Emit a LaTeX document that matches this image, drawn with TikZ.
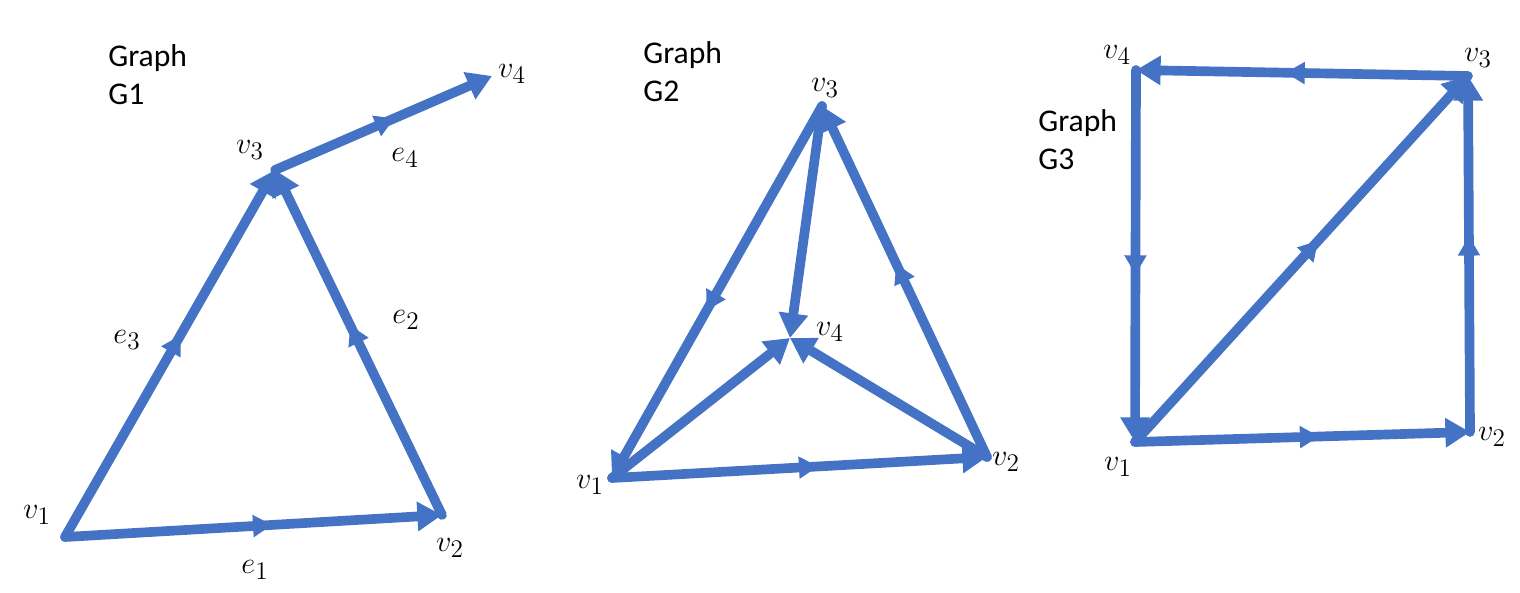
\documentclass[tikz,border=0pt]{standalone}
\usepackage{fontspec}
\setmainfont{Carlito}
\usetikzlibrary{arrows.meta,decorations.markings}
\definecolor{eb}{RGB}{68,114,196}
\tikzset{
  edge/.style={draw=eb,line width=5.5pt,line cap=round,-{Triangle[length=14pt,width=16pt]},
    postaction={decorate},decoration={markings,mark=at position 0.55 with {\arrow[eb]{Triangle[length=11pt,width=12pt]}}}},
  plain/.style={draw=eb,line width=5.5pt,line cap=round,-{Triangle[length=14pt,width=16pt]}},
  lbl/.style={font=\fontsize{19}{22}\selectfont},
  ttl/.style={font=\fontsize{18}{22}\selectfont,align=left,anchor=north west,inner sep=0pt}
}
\begin{document}
\begin{tikzpicture}[x=0.02cm,y=-0.02cm]
\useasboundingbox (0,0) rectangle (1520,592);
% G1
\coordinate (a1) at (65,537); \coordinate (a2) at (442,515);
\coordinate (a3) at (275,170); \coordinate (a4) at (492,76);
\draw[edge] (a1) -- (a2);
\draw[edge] (a1) -- (a3);
\draw[edge] (a2) -- (a3);
\draw[edge] (a3) -- (a4);
\node[ttl] (t1) at (108,44) {Graph\\G1};
\node[lbl] (la1) at (37,515) {$v_1$};
\node[lbl] (la2) at (450,548) {$v_2$};
\node[lbl] (la3) at (250,150) {$v_3$};
\node[lbl] (la4) at (512,74) {$v_4$};
\node[lbl] (le1) at (255,570) {$e_1$};
\node[lbl] (le2) at (406,320) {$e_2$};
\node[lbl] (le3) at (127,340) {$e_3$};
\node[lbl] (le4) at (405,158) {$e_4$};
% G2
\coordinate (b1) at (612,478); \coordinate (b2) at (987,457);
\coordinate (b3) at (822,106); \coordinate (b4) at (790,338);
\draw[edge] (b1) -- (b2);
\draw[edge] (b3) -- (b1);
\draw[edge] (b2) -- (b3);
\draw[plain] (b3) -- (b4);
\draw[plain] (b1) -- (b4);
\draw[plain] (b2) -- (b4);
\node[ttl] (t2) at (643,41) {Graph\\G2};
\node[lbl] (lb1) at (590,485) {$v_1$};
\node[lbl] (lb2) at (1006,462) {$v_2$};
\node[lbl] (lb3) at (825,88) {$v_3$};
\node[lbl] (lb4) at (830,332) {$v_4$};
% G3
\coordinate (c1) at (1135,442); \coordinate (c2) at (1470,432);
\coordinate (c3) at (1468,76); \coordinate (c4) at (1136,70);
\draw[edge] (c1) -- (c2);
\draw[edge] (c2) -- (c3);
\draw[edge] (c3) -- (c4);
\draw[edge] (c4) -- (c1);
\draw[edge] (c1) -- (c3);
\node[ttl] (t3) at (1038,109) {Graph\\G3};
\node[lbl] (lc1) at (1118,467) {$v_1$};
\node[lbl] (lc2) at (1492,437) {$v_2$};
\node[lbl] (lc3) at (1478,58) {$v_3$};
\node[lbl] (lc4) at (1117,55) {$v_4$};
\end{tikzpicture}
\end{document}
